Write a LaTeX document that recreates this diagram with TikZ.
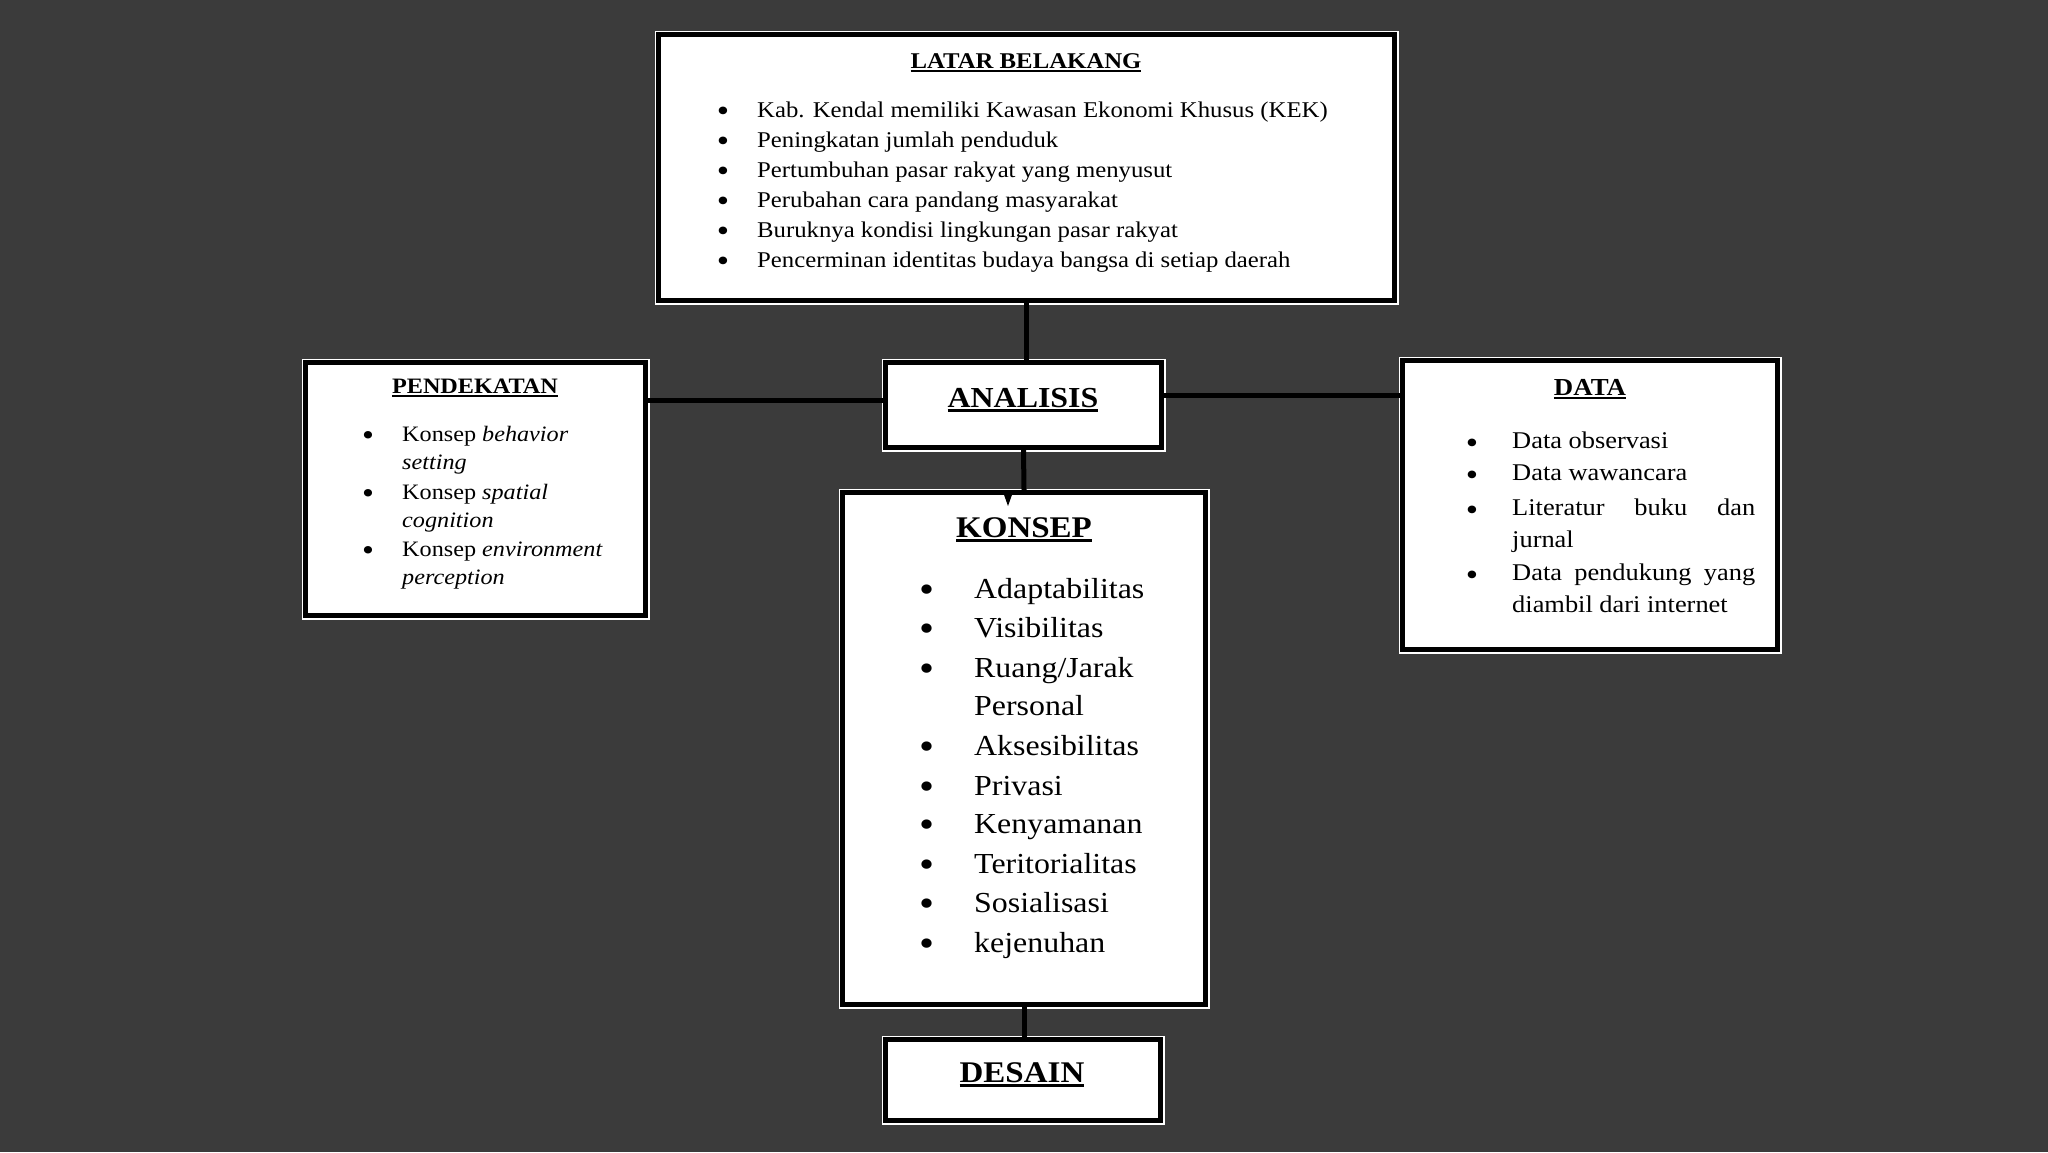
\documentclass[tikz,border=0pt]{standalone}
\usepackage{fontspec}
\setmainfont{Liberation Serif}[FakeStretch=1.1]
\usepackage{xcolor}
\definecolor{abu}{HTML}{3B3B3B}
\newcommand{\garis}[1]{\setbox0=\hbox{#1}\rlap{\rule[-0.18em]{\wd0}{0.1em}}\box0}
\tikzset{
  kotak/.style={draw=black, line width=5, fill=white, preaction={draw=white, line width=8}, inner sep=0pt},
  hubung/.style={draw=black, line width=5},
  judul/.style={anchor=base, inner sep=0pt, font=\bfseries\fontsize{#1}{#1}\selectfont},
  isi/.style={anchor=base west, inner sep=0pt, font=\fontsize{#1}{#1}\selectfont},
  titik/.style={inner sep=0pt, font=\fontsize{#1}{#1}\selectfont}
}
\begin{document}
\begin{tikzpicture}[x=1pt,y=1pt,yscale=-1,xscale=1]
        \useasboundingbox (0,0) rectangle (2048,1152);
        \fill[abu] (0,0) rectangle (2048,1152);
        %Boxes
        \node[kotak, minimum width=736pt, minimum height=266pt] (latar) at (1026.5,167.5) {};
        \node[kotak, minimum width=276pt, minimum height=85pt] (analisis) at (1023.5,405) {};
        \node[kotak, minimum width=340pt, minimum height=253pt] (pendekatan) at (475.5,489) {};
        \node[kotak, minimum width=375pt, minimum height=289pt] (data) at (1590,505) {};
        \node[kotak, minimum width=363pt, minimum height=512pt] (konsep) at (1024,748.5) {};
        \node[kotak, minimum width=275pt, minimum height=81pt] (desain) at (1023,1080) {};
        %Connectors
        \draw[hubung] (latar.south) -- (latar.south |- analisis.north);
        \draw[hubung] (analisis.south) -- (konsep.north);
        \draw[hubung] (konsep.south) -- (konsep.south |- desain.north);
        \draw[hubung] (pendekatan.east |- 0,400) -- (analisis.west |- 0,400);
        \draw[hubung] (analisis.east |- 0,395) -- (data.west |- 0,395);
        \fill (1003,492) -- (1013,492) -- (1008,506) -- cycle;
        % LATAR BELAKANG
        \node[judul=22.5] (tlatar) at (1026,68) {\garis{LATAR BELAKANG}};
        \node[titik=32] (blb1) at (723,114) {\textbullet};
        \node[isi=22.5] (lb1) at (757,117) {Kab. Kendal memiliki Kawasan Ekonomi Khusus (KEK)};
        \node[titik=32] (blb2) at (723,144) {\textbullet};
        \node[isi=22.5] (lb2) at (757,147) {Peningkatan jumlah penduduk};
        \node[titik=32] (blb3) at (723,174) {\textbullet};
        \node[isi=22.5] (lb3) at (757,177) {Pertumbuhan pasar rakyat yang menyusut};
        \node[titik=32] (blb4) at (723,204) {\textbullet};
        \node[isi=22.5] (lb4) at (757,207) {Perubahan cara pandang masyarakat};
        \node[titik=32] (blb5) at (723,234) {\textbullet};
        \node[isi=22.5] (lb5) at (757,237) {Buruknya kondisi lingkungan pasar rakyat};
        \node[titik=32] (blb6) at (723,264) {\textbullet};
        \node[isi=22.5] (lb6) at (757,267) {Pencerminan identitas budaya bangsa di setiap daerah};
        % ANALISIS
        \node[judul=29] (tanalisis) at (1023,407) {\garis{ANALISIS}};
        % PENDEKATAN
        \node[judul=22] (tpendekatan) at (475,393) {\garis{PENDEKATAN}};
        \node[titik=31] (bpd1) at (368,439) {\textbullet};
        \node[isi=22] (pd1) at (402,441) {Konsep \textit{behavior}};
        \node[isi=22] (pd2) at (402,469) {\textit{setting}};
        \node[titik=31] (bpd2) at (368,497) {\textbullet};
        \node[isi=22] (pd3) at (402,499) {Konsep \textit{spatial}};
        \node[isi=22] (pd4) at (402,527) {\textit{cognition}};
        \node[titik=31] (bpd3) at (368,554) {\textbullet};
        \node[isi=22] (pd5) at (402,556) {Konsep \textit{environment}};
        \node[isi=22] (pd6) at (402,584) {\textit{perception}};
        % DATA
        \node[judul=24.4] (tdata) at (1590,395) {\garis{DATA}};
        \node[titik=32] (bdt1) at (1472,446) {\textbullet};
        \node[isi=24] (dt1) at (1512,448) {Data observasi};
        \node[titik=32] (bdt2) at (1472,478) {\textbullet};
        \node[isi=24] (dt2) at (1512,480) {Data wawancara};
        \node[titik=32] (bdt3) at (1472,513) {\textbullet};
        \node[isi=24] (dt3) at (1512,515) {\hbox to 243pt{Literatur\hfill buku\hfill dan}};
        \node[isi=24] (dt4) at (1512,547) {jurnal};
        \node[titik=32] (bdt4) at (1472,578) {\textbullet};
        \node[isi=24] (dt5) at (1512,580) {\hbox to 243pt{Data\hfill pendukung\hfill yang}};
        \node[isi=24] (dt6) at (1512,612) {diambil dari internet};
        % KONSEP
        \node[judul=30] (tkonsep) at (1024,537) {\garis{KONSEP}};
        \node[titik=39] (bkp1) at (927,594) {\textbullet};
        \node[isi=29] (kp1) at (974,598) {Adaptabilitas};
        \node[titik=39] (bkp2) at (927,633) {\textbullet};
        \node[isi=29] (kp2) at (974,637) {Visibilitas};
        \node[titik=39] (bkp3) at (927,673) {\textbullet};
        \node[isi=29] (kp3) at (974,677) {Ruang/Jarak};
        \node[isi=29] (kp4) at (974,715) {Personal};
        \node[titik=39] (bkp5) at (927,751) {\textbullet};
        \node[isi=29] (kp5) at (974,755) {Aksesibilitas};
        \node[titik=39] (bkp6) at (927,791) {\textbullet};
        \node[isi=29] (kp6) at (974,795) {Privasi};
        \node[titik=39] (bkp7) at (927,829) {\textbullet};
        \node[isi=29] (kp7) at (974,833) {Kenyamanan};
        \node[titik=39] (bkp8) at (927,869) {\textbullet};
        \node[isi=29] (kp8) at (974,873) {Teritorialitas};
        \node[titik=39] (bkp9) at (927,908) {\textbullet};
        \node[isi=29] (kp9) at (974,912) {Sosialisasi};
        \node[titik=39] (bkp10) at (927,948) {\textbullet};
        \node[isi=29] (kp10) at (974,952) {kejenuhan};
        % DESAIN
        \node[judul=30] (tdesain) at (1022,1082) {\garis{DESAIN}};
\end{tikzpicture}
\end{document}
